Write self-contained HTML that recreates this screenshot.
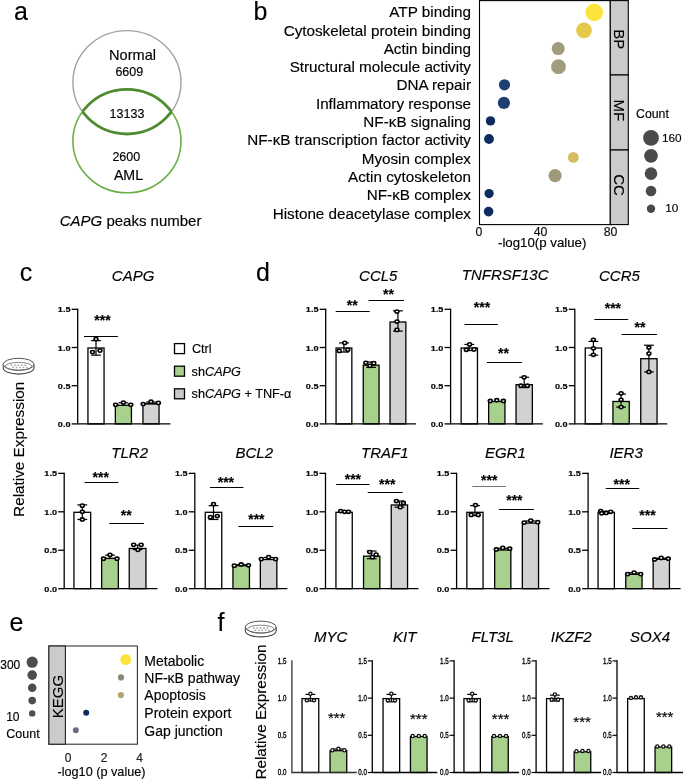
<!DOCTYPE html>
<html><head><meta charset="utf-8"><style>
html,body{margin:0;padding:0;background:#fff;}
svg{display:block;will-change:transform;}
text{font-family:'Liberation Sans', sans-serif;stroke:#000;stroke-width:0.15px;}
</style></head><body>
<svg width="683" height="781" viewBox="0 0 683 781" font-family="'Liberation Sans', sans-serif">
<rect width="683" height="781" fill="#fff"/>
<text x="14.00" y="19.90" font-size="25" text-anchor="start" fill="#000"  >a</text>
<text x="253.60" y="19.90" font-size="25" text-anchor="start" fill="#000"  >b</text>
<text x="19.80" y="280.90" font-size="25" text-anchor="start" fill="#000"  >c</text>
<text x="256.00" y="280.80" font-size="25" text-anchor="start" fill="#000"  >d</text>
<text x="9.50" y="630.90" font-size="25" text-anchor="start" fill="#000"  >e</text>
<text x="217.60" y="631.30" font-size="25" text-anchor="start" fill="#000"  >f</text>
<defs><clipPath id="clipGray"><ellipse cx="126.95" cy="82.3" rx="54.05" ry="51.7"/></clipPath><clipPath id="clipGreen"><ellipse cx="126.95" cy="141.05" rx="54.05" ry="51.75"/></clipPath></defs>
<ellipse cx="126.95" cy="82.3" rx="54.05" ry="51.7" fill="none" stroke="#a2a2a2" stroke-width="1.4"/>
<ellipse cx="126.95" cy="141.05" rx="54.05" ry="51.75" fill="none" stroke="#6aaf45" stroke-width="1.6"/>
<ellipse cx="126.95" cy="141.05" rx="54.05" ry="51.75" fill="none" stroke="#4f8c31" stroke-width="2.8" clip-path="url(#clipGray)"/>
<ellipse cx="126.95" cy="82.3" rx="54.05" ry="51.7" fill="none" stroke="#4f8c31" stroke-width="2.8" clip-path="url(#clipGreen)"/>
<text x="132.50" y="59.60" font-size="14.6" text-anchor="middle" fill="#000"  >Normal</text>
<text x="129.30" y="76.40" font-size="12.5" text-anchor="middle" fill="#000"  >6609</text>
<text x="127.00" y="118.00" font-size="12.5" text-anchor="middle" fill="#000"  >13133</text>
<text x="126.30" y="160.50" font-size="12.5" text-anchor="middle" fill="#000"  >2600</text>
<text x="128.50" y="179.50" font-size="14.2" text-anchor="middle" fill="#000"  >AML</text>
<text x="130.6" y="226.2" font-size="15" text-anchor="middle"><tspan font-style="italic">CAPG</tspan> peaks number</text>
<text x="471.00" y="17.20" font-size="15.25" text-anchor="end" fill="#000"  >ATP binding</text>
<text x="471.00" y="35.50" font-size="15.25" text-anchor="end" fill="#000"  >Cytoskeletal protein binding</text>
<text x="471.00" y="53.80" font-size="15.25" text-anchor="end" fill="#000"  >Actin binding</text>
<text x="471.00" y="72.10" font-size="15.25" text-anchor="end" fill="#000"  >Structural molecule activity</text>
<text x="471.00" y="90.40" font-size="15.25" text-anchor="end" fill="#000"  >DNA repair</text>
<text x="471.00" y="108.70" font-size="15.25" text-anchor="end" fill="#000"  >Inflammatory response</text>
<text x="471.00" y="127.00" font-size="15.25" text-anchor="end" fill="#000"  >NF-κB signaling</text>
<text x="471.00" y="145.30" font-size="15.25" text-anchor="end" fill="#000"  >NF-κB transcription factor activity</text>
<text x="471.00" y="163.60" font-size="15.25" text-anchor="end" fill="#000"  >Myosin complex</text>
<text x="471.00" y="181.90" font-size="15.25" text-anchor="end" fill="#000"  >Actin cytoskeleton</text>
<text x="471.00" y="200.20" font-size="15.25" text-anchor="end" fill="#000"  >NF-κB complex</text>
<text x="471.00" y="218.50" font-size="15.25" text-anchor="end" fill="#000"  >Histone deacetylase complex</text>
<rect x="479.50" y="0.60" width="130.80" height="224.00" fill="#fff" stroke="#000" stroke-width="1.1" />
<rect x="610.30" y="0.60" width="18.00" height="74.40" fill="#cbcbcb" stroke="#000" stroke-width="1.1" />
<text x="0" y="0" font-size="15" text-anchor="middle" transform="translate(614.00,39.20) rotate(90)">BP</text>
<rect x="610.30" y="75.00" width="18.00" height="75.00" fill="#cbcbcb" stroke="#000" stroke-width="1.1" />
<text x="0" y="0" font-size="15" text-anchor="middle" transform="translate(614.00,110.30) rotate(90)">MF</text>
<rect x="610.30" y="150.00" width="18.00" height="74.60" fill="#cbcbcb" stroke="#000" stroke-width="1.1" />
<text x="0" y="0" font-size="15" text-anchor="middle" transform="translate(614.00,185.10) rotate(90)">CC</text>
<circle cx="594.20" cy="12.40" r="8.80" fill="#fce33d" stroke="none" stroke-width="1"/>
<circle cx="584.00" cy="30.30" r="7.90" fill="#e6c94a" stroke="none" stroke-width="1"/>
<circle cx="558.20" cy="48.60" r="6.50" fill="#a19c7b" stroke="none" stroke-width="1"/>
<circle cx="558.50" cy="66.70" r="7.40" fill="#a19c7b" stroke="none" stroke-width="1"/>
<circle cx="504.50" cy="84.80" r="5.60" fill="#1e3e74" stroke="none" stroke-width="1"/>
<circle cx="503.90" cy="102.90" r="6.10" fill="#1e3e74" stroke="none" stroke-width="1"/>
<circle cx="490.50" cy="120.90" r="4.70" fill="#0e2b60" stroke="none" stroke-width="1"/>
<circle cx="489.00" cy="139.00" r="4.90" fill="#0e2b60" stroke="none" stroke-width="1"/>
<circle cx="573.30" cy="157.40" r="5.40" fill="#d7bb60" stroke="none" stroke-width="1"/>
<circle cx="555.10" cy="175.60" r="6.60" fill="#9e9979" stroke="none" stroke-width="1"/>
<circle cx="489.10" cy="193.60" r="4.60" fill="#0e2b60" stroke="none" stroke-width="1"/>
<circle cx="488.60" cy="211.60" r="4.80" fill="#0e2b60" stroke="none" stroke-width="1"/>
<text x="478.80" y="236.40" font-size="12.3" text-anchor="middle" fill="#111"  >0</text>
<text x="540.50" y="236.40" font-size="12.3" text-anchor="middle" fill="#111"  >40</text>
<text x="610.50" y="236.40" font-size="12.3" text-anchor="middle" fill="#111"  >80</text>
<text x="542.20" y="247.00" font-size="13.25" text-anchor="middle" fill="#000"  >-log10(p value)</text>
<text x="636.00" y="118.40" font-size="12.3" text-anchor="start" fill="#000"  >Count</text>
<circle cx="651.00" cy="137.90" r="7.90" fill="#4a4a4a" stroke="none" stroke-width="1"/>
<circle cx="651.00" cy="155.80" r="6.90" fill="#4a4a4a" stroke="none" stroke-width="1"/>
<circle cx="651.00" cy="173.60" r="6.30" fill="#4a4a4a" stroke="none" stroke-width="1"/>
<circle cx="651.00" cy="191.00" r="5.30" fill="#4a4a4a" stroke="none" stroke-width="1"/>
<circle cx="651.00" cy="208.70" r="4.20" fill="#4a4a4a" stroke="none" stroke-width="1"/>
<text x="662.00" y="141.80" font-size="11.8" text-anchor="start" fill="#000"  >160</text>
<text x="665.30" y="212.20" font-size="11.8" text-anchor="start" fill="#000"  >10</text>
<rect x="87.95" y="348.00" width="16.10" height="75.90" fill="#ffffff" stroke="#000" stroke-width="1.3" />
<rect x="115.35" y="405.30" width="16.10" height="18.60" fill="#a9d18e" stroke="#000" stroke-width="1.3" />
<rect x="142.95" y="403.77" width="16.10" height="20.13" fill="#d2d2d2" stroke="#000" stroke-width="1.3" />
<line x1="96.00" y1="355.14" x2="96.00" y2="340.62" stroke="#000" stroke-width="1.2"/>
<line x1="91.10" y1="340.62" x2="100.90" y2="340.62" stroke="#000" stroke-width="1.2"/>
<line x1="91.10" y1="355.14" x2="100.90" y2="355.14" stroke="#000" stroke-width="1.2"/>
<ellipse cx="96.00" cy="339.10" rx="1.95" ry="1.6" fill="#fff" stroke="#000" stroke-width="1.55"/>
<ellipse cx="92.50" cy="352.08" rx="1.95" ry="1.6" fill="#fff" stroke="#000" stroke-width="1.55"/>
<ellipse cx="100.00" cy="350.56" rx="1.95" ry="1.6" fill="#fff" stroke="#000" stroke-width="1.55"/>
<line x1="123.40" y1="404.49" x2="123.40" y2="402.81" stroke="#000" stroke-width="1.2"/>
<line x1="118.50" y1="402.81" x2="128.30" y2="402.81" stroke="#000" stroke-width="1.2"/>
<ellipse cx="115.60" cy="404.80" rx="1.95" ry="1.6" fill="#fff" stroke="#000" stroke-width="1.55"/>
<ellipse cx="123.40" cy="402.51" rx="1.95" ry="1.6" fill="#fff" stroke="#000" stroke-width="1.55"/>
<ellipse cx="130.80" cy="404.80" rx="1.95" ry="1.6" fill="#fff" stroke="#000" stroke-width="1.55"/>
<line x1="151.00" y1="403.73" x2="151.00" y2="402.05" stroke="#000" stroke-width="1.2"/>
<line x1="146.10" y1="402.05" x2="155.90" y2="402.05" stroke="#000" stroke-width="1.2"/>
<line x1="146.10" y1="403.73" x2="155.90" y2="403.73" stroke="#000" stroke-width="1.2"/>
<ellipse cx="143.20" cy="404.04" rx="1.95" ry="1.6" fill="#fff" stroke="#000" stroke-width="1.55"/>
<ellipse cx="151.00" cy="401.74" rx="1.95" ry="1.6" fill="#fff" stroke="#000" stroke-width="1.55"/>
<ellipse cx="158.40" cy="402.89" rx="1.95" ry="1.6" fill="#fff" stroke="#000" stroke-width="1.55"/>
<line x1="77.70" y1="423.90" x2="77.70" y2="308.70" stroke="#000" stroke-width="1.3"/>
<line x1="77.10" y1="423.90" x2="170.40" y2="423.90" stroke="#000" stroke-width="1.3"/>
<line x1="71.70" y1="423.90" x2="77.70" y2="423.90" stroke="#000" stroke-width="1.3"/>
<text x="0" y="0" font-size="7" font-weight="bold" text-anchor="end" transform="translate(70.50,426.90) scale(1.3,1)">0.0</text>
<line x1="71.70" y1="385.70" x2="77.70" y2="385.70" stroke="#000" stroke-width="1.3"/>
<text x="0" y="0" font-size="7" font-weight="bold" text-anchor="end" transform="translate(70.50,388.70) scale(1.3,1)">0.5</text>
<line x1="71.70" y1="347.50" x2="77.70" y2="347.50" stroke="#000" stroke-width="1.3"/>
<text x="0" y="0" font-size="7" font-weight="bold" text-anchor="end" transform="translate(70.50,350.50) scale(1.3,1)">1.0</text>
<line x1="71.70" y1="309.30" x2="77.70" y2="309.30" stroke="#000" stroke-width="1.3"/>
<text x="0" y="0" font-size="7" font-weight="bold" text-anchor="end" transform="translate(70.50,312.30) scale(1.3,1)">1.5</text>
<line x1="84.00" y1="336.50" x2="117.90" y2="336.50" stroke="#000" stroke-width="1.2"/>
<text x="102.50" y="324.94" font-size="14" text-anchor="middle" fill="#000" font-weight="bold" >***</text>
<rect x="336.05" y="348.00" width="15.80" height="75.90" fill="#ffffff" stroke="#000" stroke-width="1.3" />
<rect x="363.25" y="365.19" width="15.80" height="58.71" fill="#a9d18e" stroke="#000" stroke-width="1.3" />
<rect x="390.05" y="322.02" width="15.80" height="101.88" fill="#d2d2d2" stroke="#000" stroke-width="1.3" />
<line x1="343.95" y1="352.08" x2="343.95" y2="342.92" stroke="#000" stroke-width="1.2"/>
<line x1="339.05" y1="342.92" x2="348.85" y2="342.92" stroke="#000" stroke-width="1.2"/>
<line x1="339.05" y1="352.08" x2="348.85" y2="352.08" stroke="#000" stroke-width="1.2"/>
<ellipse cx="344.75" cy="342.92" rx="1.95" ry="1.6" fill="#fff" stroke="#000" stroke-width="1.55"/>
<ellipse cx="339.25" cy="350.94" rx="1.95" ry="1.6" fill="#fff" stroke="#000" stroke-width="1.55"/>
<ellipse cx="347.85" cy="349.79" rx="1.95" ry="1.6" fill="#fff" stroke="#000" stroke-width="1.55"/>
<line x1="371.15" y1="367.36" x2="371.15" y2="362.02" stroke="#000" stroke-width="1.2"/>
<line x1="366.25" y1="362.02" x2="376.05" y2="362.02" stroke="#000" stroke-width="1.2"/>
<line x1="366.25" y1="367.36" x2="376.05" y2="367.36" stroke="#000" stroke-width="1.2"/>
<ellipse cx="365.85" cy="362.78" rx="1.95" ry="1.6" fill="#fff" stroke="#000" stroke-width="1.55"/>
<ellipse cx="369.85" cy="365.84" rx="1.95" ry="1.6" fill="#fff" stroke="#000" stroke-width="1.55"/>
<ellipse cx="373.75" cy="363.16" rx="1.95" ry="1.6" fill="#fff" stroke="#000" stroke-width="1.55"/>
<line x1="397.95" y1="331.07" x2="397.95" y2="310.83" stroke="#000" stroke-width="1.2"/>
<line x1="393.05" y1="310.83" x2="402.85" y2="310.83" stroke="#000" stroke-width="1.2"/>
<line x1="393.05" y1="331.07" x2="402.85" y2="331.07" stroke="#000" stroke-width="1.2"/>
<ellipse cx="396.95" cy="311.59" rx="1.95" ry="1.6" fill="#fff" stroke="#000" stroke-width="1.55"/>
<ellipse cx="396.95" cy="321.52" rx="1.95" ry="1.6" fill="#fff" stroke="#000" stroke-width="1.55"/>
<ellipse cx="396.95" cy="329.93" rx="1.95" ry="1.6" fill="#fff" stroke="#000" stroke-width="1.55"/>
<line x1="325.70" y1="423.90" x2="325.70" y2="308.70" stroke="#000" stroke-width="1.3"/>
<line x1="325.10" y1="423.90" x2="416.00" y2="423.90" stroke="#000" stroke-width="1.3"/>
<line x1="319.70" y1="423.90" x2="325.70" y2="423.90" stroke="#000" stroke-width="1.3"/>
<text x="0" y="0" font-size="7" font-weight="bold" text-anchor="end" transform="translate(318.50,426.90) scale(1.3,1)">0.0</text>
<line x1="319.70" y1="385.70" x2="325.70" y2="385.70" stroke="#000" stroke-width="1.3"/>
<text x="0" y="0" font-size="7" font-weight="bold" text-anchor="end" transform="translate(318.50,388.70) scale(1.3,1)">0.5</text>
<line x1="319.70" y1="347.50" x2="325.70" y2="347.50" stroke="#000" stroke-width="1.3"/>
<text x="0" y="0" font-size="7" font-weight="bold" text-anchor="end" transform="translate(318.50,350.50) scale(1.3,1)">1.0</text>
<line x1="319.70" y1="309.30" x2="325.70" y2="309.30" stroke="#000" stroke-width="1.3"/>
<text x="0" y="0" font-size="7" font-weight="bold" text-anchor="end" transform="translate(318.50,312.30) scale(1.3,1)">1.5</text>
<line x1="335.70" y1="311.50" x2="369.70" y2="311.50" stroke="#000" stroke-width="1.2"/>
<text x="352.20" y="309.84" font-size="14" text-anchor="middle" fill="#000" font-weight="bold" >**</text>
<line x1="368.60" y1="300.50" x2="404.00" y2="300.50" stroke="#000" stroke-width="1.2"/>
<text x="388.40" y="298.74" font-size="14" text-anchor="middle" fill="#000" font-weight="bold" >**</text>
<rect x="461.15" y="348.00" width="16.30" height="75.90" fill="#ffffff" stroke="#000" stroke-width="1.3" />
<rect x="488.65" y="401.48" width="16.30" height="22.42" fill="#a9d18e" stroke="#000" stroke-width="1.3" />
<rect x="516.05" y="384.67" width="16.30" height="39.23" fill="#d2d2d2" stroke="#000" stroke-width="1.3" />
<line x1="469.30" y1="350.56" x2="469.30" y2="344.44" stroke="#000" stroke-width="1.2"/>
<line x1="464.40" y1="344.44" x2="474.20" y2="344.44" stroke="#000" stroke-width="1.2"/>
<line x1="464.40" y1="350.56" x2="474.20" y2="350.56" stroke="#000" stroke-width="1.2"/>
<ellipse cx="469.60" cy="344.44" rx="1.95" ry="1.6" fill="#fff" stroke="#000" stroke-width="1.55"/>
<ellipse cx="466.30" cy="349.79" rx="1.95" ry="1.6" fill="#fff" stroke="#000" stroke-width="1.55"/>
<ellipse cx="474.00" cy="349.41" rx="1.95" ry="1.6" fill="#fff" stroke="#000" stroke-width="1.55"/>
<ellipse cx="490.30" cy="400.98" rx="1.95" ry="1.6" fill="#fff" stroke="#000" stroke-width="1.55"/>
<ellipse cx="496.80" cy="400.22" rx="1.95" ry="1.6" fill="#fff" stroke="#000" stroke-width="1.55"/>
<ellipse cx="503.40" cy="400.98" rx="1.95" ry="1.6" fill="#fff" stroke="#000" stroke-width="1.55"/>
<line x1="524.20" y1="387.61" x2="524.20" y2="377.30" stroke="#000" stroke-width="1.2"/>
<line x1="519.30" y1="377.30" x2="529.10" y2="377.30" stroke="#000" stroke-width="1.2"/>
<line x1="519.30" y1="387.61" x2="529.10" y2="387.61" stroke="#000" stroke-width="1.2"/>
<ellipse cx="524.20" cy="377.30" rx="1.95" ry="1.6" fill="#fff" stroke="#000" stroke-width="1.55"/>
<ellipse cx="520.80" cy="385.70" rx="1.95" ry="1.6" fill="#fff" stroke="#000" stroke-width="1.55"/>
<ellipse cx="527.40" cy="385.70" rx="1.95" ry="1.6" fill="#fff" stroke="#000" stroke-width="1.55"/>
<line x1="450.60" y1="423.90" x2="450.60" y2="308.70" stroke="#000" stroke-width="1.3"/>
<line x1="450.00" y1="423.90" x2="542.90" y2="423.90" stroke="#000" stroke-width="1.3"/>
<line x1="444.60" y1="423.90" x2="450.60" y2="423.90" stroke="#000" stroke-width="1.3"/>
<text x="0" y="0" font-size="7" font-weight="bold" text-anchor="end" transform="translate(443.40,426.90) scale(1.3,1)">0.0</text>
<line x1="444.60" y1="385.70" x2="450.60" y2="385.70" stroke="#000" stroke-width="1.3"/>
<text x="0" y="0" font-size="7" font-weight="bold" text-anchor="end" transform="translate(443.40,388.70) scale(1.3,1)">0.5</text>
<line x1="444.60" y1="347.50" x2="450.60" y2="347.50" stroke="#000" stroke-width="1.3"/>
<text x="0" y="0" font-size="7" font-weight="bold" text-anchor="end" transform="translate(443.40,350.50) scale(1.3,1)">1.0</text>
<line x1="444.60" y1="309.30" x2="450.60" y2="309.30" stroke="#000" stroke-width="1.3"/>
<text x="0" y="0" font-size="7" font-weight="bold" text-anchor="end" transform="translate(443.40,312.30) scale(1.3,1)">1.5</text>
<line x1="464.50" y1="324.50" x2="497.90" y2="324.50" stroke="#000" stroke-width="1.2"/>
<text x="482.00" y="312.14" font-size="14" text-anchor="middle" fill="#000" font-weight="bold" >***</text>
<line x1="486.90" y1="362.50" x2="522.00" y2="362.50" stroke="#000" stroke-width="1.2"/>
<text x="503.40" y="358.24" font-size="14" text-anchor="middle" fill="#000" font-weight="bold" >**</text>
<rect x="585.25" y="348.00" width="16.30" height="75.90" fill="#ffffff" stroke="#000" stroke-width="1.3" />
<rect x="612.95" y="401.48" width="16.30" height="22.42" fill="#a9d18e" stroke="#000" stroke-width="1.3" />
<rect x="640.75" y="358.70" width="16.30" height="65.20" fill="#d2d2d2" stroke="#000" stroke-width="1.3" />
<line x1="593.40" y1="355.14" x2="593.40" y2="341.39" stroke="#000" stroke-width="1.2"/>
<line x1="588.50" y1="341.39" x2="598.30" y2="341.39" stroke="#000" stroke-width="1.2"/>
<line x1="588.50" y1="355.14" x2="598.30" y2="355.14" stroke="#000" stroke-width="1.2"/>
<ellipse cx="593.40" cy="339.86" rx="1.95" ry="1.6" fill="#fff" stroke="#000" stroke-width="1.55"/>
<ellipse cx="593.40" cy="348.26" rx="1.95" ry="1.6" fill="#fff" stroke="#000" stroke-width="1.55"/>
<ellipse cx="593.40" cy="354.76" rx="1.95" ry="1.6" fill="#fff" stroke="#000" stroke-width="1.55"/>
<line x1="621.10" y1="407.09" x2="621.10" y2="394.10" stroke="#000" stroke-width="1.2"/>
<line x1="616.20" y1="394.10" x2="626.00" y2="394.10" stroke="#000" stroke-width="1.2"/>
<line x1="616.20" y1="407.09" x2="626.00" y2="407.09" stroke="#000" stroke-width="1.2"/>
<ellipse cx="621.10" cy="393.34" rx="1.95" ry="1.6" fill="#fff" stroke="#000" stroke-width="1.55"/>
<ellipse cx="621.10" cy="399.83" rx="1.95" ry="1.6" fill="#fff" stroke="#000" stroke-width="1.55"/>
<ellipse cx="621.10" cy="407.09" rx="1.95" ry="1.6" fill="#fff" stroke="#000" stroke-width="1.55"/>
<line x1="648.90" y1="371.95" x2="648.90" y2="345.21" stroke="#000" stroke-width="1.2"/>
<line x1="644.00" y1="345.21" x2="653.80" y2="345.21" stroke="#000" stroke-width="1.2"/>
<line x1="644.00" y1="371.95" x2="653.80" y2="371.95" stroke="#000" stroke-width="1.2"/>
<ellipse cx="648.90" cy="347.50" rx="1.95" ry="1.6" fill="#fff" stroke="#000" stroke-width="1.55"/>
<ellipse cx="648.90" cy="353.61" rx="1.95" ry="1.6" fill="#fff" stroke="#000" stroke-width="1.55"/>
<ellipse cx="648.90" cy="371.95" rx="1.95" ry="1.6" fill="#fff" stroke="#000" stroke-width="1.55"/>
<line x1="574.80" y1="423.90" x2="574.80" y2="308.70" stroke="#000" stroke-width="1.3"/>
<line x1="574.20" y1="423.90" x2="667.30" y2="423.90" stroke="#000" stroke-width="1.3"/>
<line x1="568.80" y1="423.90" x2="574.80" y2="423.90" stroke="#000" stroke-width="1.3"/>
<text x="0" y="0" font-size="7" font-weight="bold" text-anchor="end" transform="translate(567.60,426.90) scale(1.3,1)">0.0</text>
<line x1="568.80" y1="385.70" x2="574.80" y2="385.70" stroke="#000" stroke-width="1.3"/>
<text x="0" y="0" font-size="7" font-weight="bold" text-anchor="end" transform="translate(567.60,388.70) scale(1.3,1)">0.5</text>
<line x1="568.80" y1="347.50" x2="574.80" y2="347.50" stroke="#000" stroke-width="1.3"/>
<text x="0" y="0" font-size="7" font-weight="bold" text-anchor="end" transform="translate(567.60,350.50) scale(1.3,1)">1.0</text>
<line x1="568.80" y1="309.30" x2="574.80" y2="309.30" stroke="#000" stroke-width="1.3"/>
<text x="0" y="0" font-size="7" font-weight="bold" text-anchor="end" transform="translate(567.60,312.30) scale(1.3,1)">1.5</text>
<line x1="594.40" y1="319.50" x2="628.20" y2="319.50" stroke="#000" stroke-width="1.2"/>
<text x="612.90" y="312.84" font-size="14" text-anchor="middle" fill="#000" font-weight="bold" >***</text>
<line x1="621.60" y1="334.50" x2="656.90" y2="334.50" stroke="#000" stroke-width="1.2"/>
<text x="640.00" y="332.44" font-size="14" text-anchor="middle" fill="#000" font-weight="bold" >**</text>
<rect x="73.95" y="512.30" width="16.70" height="76.40" fill="#ffffff" stroke="#000" stroke-width="1.3" />
<rect x="101.65" y="558.44" width="16.70" height="30.26" fill="#a9d18e" stroke="#000" stroke-width="1.3" />
<rect x="129.25" y="548.44" width="16.70" height="40.26" fill="#d2d2d2" stroke="#000" stroke-width="1.3" />
<line x1="82.30" y1="519.49" x2="82.30" y2="504.88" stroke="#000" stroke-width="1.2"/>
<line x1="77.40" y1="504.88" x2="87.20" y2="504.88" stroke="#000" stroke-width="1.2"/>
<line x1="77.40" y1="519.49" x2="87.20" y2="519.49" stroke="#000" stroke-width="1.2"/>
<ellipse cx="82.30" cy="505.65" rx="1.95" ry="1.6" fill="#fff" stroke="#000" stroke-width="1.55"/>
<ellipse cx="82.30" cy="511.80" rx="1.95" ry="1.6" fill="#fff" stroke="#000" stroke-width="1.55"/>
<ellipse cx="82.30" cy="519.49" rx="1.95" ry="1.6" fill="#fff" stroke="#000" stroke-width="1.55"/>
<line x1="110.00" y1="558.40" x2="110.00" y2="555.17" stroke="#000" stroke-width="1.2"/>
<line x1="105.10" y1="555.17" x2="114.90" y2="555.17" stroke="#000" stroke-width="1.2"/>
<line x1="105.10" y1="558.40" x2="114.90" y2="558.40" stroke="#000" stroke-width="1.2"/>
<ellipse cx="103.50" cy="558.71" rx="1.95" ry="1.6" fill="#fff" stroke="#000" stroke-width="1.55"/>
<ellipse cx="110.00" cy="554.86" rx="1.95" ry="1.6" fill="#fff" stroke="#000" stroke-width="1.55"/>
<ellipse cx="117.00" cy="558.71" rx="1.95" ry="1.6" fill="#fff" stroke="#000" stroke-width="1.55"/>
<line x1="137.60" y1="549.56" x2="137.60" y2="545.17" stroke="#000" stroke-width="1.2"/>
<line x1="132.70" y1="545.17" x2="142.50" y2="545.17" stroke="#000" stroke-width="1.2"/>
<line x1="132.70" y1="549.56" x2="142.50" y2="549.56" stroke="#000" stroke-width="1.2"/>
<ellipse cx="133.60" cy="544.87" rx="1.95" ry="1.6" fill="#fff" stroke="#000" stroke-width="1.55"/>
<ellipse cx="137.90" cy="549.87" rx="1.95" ry="1.6" fill="#fff" stroke="#000" stroke-width="1.55"/>
<ellipse cx="141.20" cy="544.87" rx="1.95" ry="1.6" fill="#fff" stroke="#000" stroke-width="1.55"/>
<line x1="64.20" y1="588.70" x2="64.20" y2="472.75" stroke="#000" stroke-width="1.3"/>
<line x1="63.60" y1="588.70" x2="157.40" y2="588.70" stroke="#000" stroke-width="1.3"/>
<line x1="58.20" y1="588.70" x2="64.20" y2="588.70" stroke="#000" stroke-width="1.3"/>
<text x="0" y="0" font-size="7" font-weight="bold" text-anchor="end" transform="translate(57.00,591.70) scale(1.3,1)">0.0</text>
<line x1="58.20" y1="550.25" x2="64.20" y2="550.25" stroke="#000" stroke-width="1.3"/>
<text x="0" y="0" font-size="7" font-weight="bold" text-anchor="end" transform="translate(57.00,553.25) scale(1.3,1)">0.5</text>
<line x1="58.20" y1="511.80" x2="64.20" y2="511.80" stroke="#000" stroke-width="1.3"/>
<text x="0" y="0" font-size="7" font-weight="bold" text-anchor="end" transform="translate(57.00,514.80) scale(1.3,1)">1.0</text>
<line x1="58.20" y1="473.35" x2="64.20" y2="473.35" stroke="#000" stroke-width="1.3"/>
<text x="0" y="0" font-size="7" font-weight="bold" text-anchor="end" transform="translate(57.00,476.35) scale(1.3,1)">1.5</text>
<line x1="84.60" y1="482.50" x2="118.40" y2="482.50" stroke="#000" stroke-width="1.2"/>
<text x="100.70" y="481.74" font-size="14" text-anchor="middle" fill="#000" font-weight="bold" >***</text>
<line x1="109.30" y1="523.50" x2="143.90" y2="523.50" stroke="#000" stroke-width="1.2"/>
<text x="126.30" y="519.94" font-size="14" text-anchor="middle" fill="#000" font-weight="bold" >**</text>
<rect x="205.25" y="512.30" width="16.50" height="76.40" fill="#ffffff" stroke="#000" stroke-width="1.3" />
<rect x="232.95" y="565.67" width="16.50" height="23.03" fill="#a9d18e" stroke="#000" stroke-width="1.3" />
<rect x="260.35" y="559.52" width="16.50" height="29.18" fill="#d2d2d2" stroke="#000" stroke-width="1.3" />
<line x1="213.50" y1="519.49" x2="213.50" y2="505.65" stroke="#000" stroke-width="1.2"/>
<line x1="208.60" y1="505.65" x2="218.40" y2="505.65" stroke="#000" stroke-width="1.2"/>
<line x1="208.60" y1="519.49" x2="218.40" y2="519.49" stroke="#000" stroke-width="1.2"/>
<ellipse cx="213.50" cy="504.11" rx="1.95" ry="1.6" fill="#fff" stroke="#000" stroke-width="1.55"/>
<ellipse cx="210.40" cy="517.18" rx="1.95" ry="1.6" fill="#fff" stroke="#000" stroke-width="1.55"/>
<ellipse cx="217.30" cy="516.03" rx="1.95" ry="1.6" fill="#fff" stroke="#000" stroke-width="1.55"/>
<line x1="241.20" y1="565.32" x2="241.20" y2="564.78" stroke="#000" stroke-width="1.2"/>
<line x1="236.30" y1="564.78" x2="246.10" y2="564.78" stroke="#000" stroke-width="1.2"/>
<line x1="236.30" y1="565.32" x2="246.10" y2="565.32" stroke="#000" stroke-width="1.2"/>
<ellipse cx="234.30" cy="565.63" rx="1.95" ry="1.6" fill="#fff" stroke="#000" stroke-width="1.55"/>
<ellipse cx="241.20" cy="564.48" rx="1.95" ry="1.6" fill="#fff" stroke="#000" stroke-width="1.55"/>
<ellipse cx="248.50" cy="565.25" rx="1.95" ry="1.6" fill="#fff" stroke="#000" stroke-width="1.55"/>
<line x1="268.60" y1="558.79" x2="268.60" y2="557.48" stroke="#000" stroke-width="1.2"/>
<line x1="263.70" y1="557.48" x2="273.50" y2="557.48" stroke="#000" stroke-width="1.2"/>
<ellipse cx="261.30" cy="559.09" rx="1.95" ry="1.6" fill="#fff" stroke="#000" stroke-width="1.55"/>
<ellipse cx="268.60" cy="557.17" rx="1.95" ry="1.6" fill="#fff" stroke="#000" stroke-width="1.55"/>
<ellipse cx="275.60" cy="559.09" rx="1.95" ry="1.6" fill="#fff" stroke="#000" stroke-width="1.55"/>
<line x1="194.80" y1="588.70" x2="194.80" y2="472.75" stroke="#000" stroke-width="1.3"/>
<line x1="194.20" y1="588.70" x2="287.40" y2="588.70" stroke="#000" stroke-width="1.3"/>
<line x1="188.80" y1="588.70" x2="194.80" y2="588.70" stroke="#000" stroke-width="1.3"/>
<text x="0" y="0" font-size="7" font-weight="bold" text-anchor="end" transform="translate(187.60,591.70) scale(1.3,1)">0.0</text>
<line x1="188.80" y1="550.25" x2="194.80" y2="550.25" stroke="#000" stroke-width="1.3"/>
<text x="0" y="0" font-size="7" font-weight="bold" text-anchor="end" transform="translate(187.60,553.25) scale(1.3,1)">0.5</text>
<line x1="188.80" y1="511.80" x2="194.80" y2="511.80" stroke="#000" stroke-width="1.3"/>
<text x="0" y="0" font-size="7" font-weight="bold" text-anchor="end" transform="translate(187.60,514.80) scale(1.3,1)">1.0</text>
<line x1="188.80" y1="473.35" x2="194.80" y2="473.35" stroke="#000" stroke-width="1.3"/>
<text x="0" y="0" font-size="7" font-weight="bold" text-anchor="end" transform="translate(187.60,476.35) scale(1.3,1)">1.5</text>
<line x1="210.00" y1="487.50" x2="243.40" y2="487.50" stroke="#000" stroke-width="1.2"/>
<text x="225.90" y="486.74" font-size="14" text-anchor="middle" fill="#000" font-weight="bold" >***</text>
<line x1="238.40" y1="526.50" x2="273.20" y2="526.50" stroke="#000" stroke-width="1.2"/>
<text x="256.40" y="523.84" font-size="14" text-anchor="middle" fill="#000" font-weight="bold" >***</text>
<rect x="335.95" y="512.30" width="16.30" height="76.40" fill="#ffffff" stroke="#000" stroke-width="1.3" />
<rect x="363.55" y="556.13" width="16.30" height="32.57" fill="#a9d18e" stroke="#000" stroke-width="1.3" />
<rect x="391.25" y="504.99" width="16.30" height="83.71" fill="#d2d2d2" stroke="#000" stroke-width="1.3" />
<ellipse cx="340.70" cy="511.03" rx="1.95" ry="1.6" fill="#fff" stroke="#000" stroke-width="1.55"/>
<ellipse cx="344.60" cy="511.80" rx="1.95" ry="1.6" fill="#fff" stroke="#000" stroke-width="1.55"/>
<ellipse cx="348.50" cy="511.80" rx="1.95" ry="1.6" fill="#fff" stroke="#000" stroke-width="1.55"/>
<line x1="371.70" y1="558.71" x2="371.70" y2="551.02" stroke="#000" stroke-width="1.2"/>
<line x1="366.80" y1="551.02" x2="376.60" y2="551.02" stroke="#000" stroke-width="1.2"/>
<line x1="366.80" y1="558.71" x2="376.60" y2="558.71" stroke="#000" stroke-width="1.2"/>
<ellipse cx="369.70" cy="552.02" rx="1.95" ry="1.6" fill="#fff" stroke="#000" stroke-width="1.55"/>
<ellipse cx="372.40" cy="557.17" rx="1.95" ry="1.6" fill="#fff" stroke="#000" stroke-width="1.55"/>
<ellipse cx="376.10" cy="554.63" rx="1.95" ry="1.6" fill="#fff" stroke="#000" stroke-width="1.55"/>
<line x1="399.40" y1="507.19" x2="399.40" y2="501.03" stroke="#000" stroke-width="1.2"/>
<line x1="394.50" y1="501.03" x2="404.30" y2="501.03" stroke="#000" stroke-width="1.2"/>
<line x1="394.50" y1="507.19" x2="404.30" y2="507.19" stroke="#000" stroke-width="1.2"/>
<ellipse cx="396.40" cy="501.03" rx="1.95" ry="1.6" fill="#fff" stroke="#000" stroke-width="1.55"/>
<ellipse cx="400.20" cy="507.19" rx="1.95" ry="1.6" fill="#fff" stroke="#000" stroke-width="1.55"/>
<ellipse cx="403.40" cy="502.96" rx="1.95" ry="1.6" fill="#fff" stroke="#000" stroke-width="1.55"/>
<line x1="325.50" y1="588.70" x2="325.50" y2="472.75" stroke="#000" stroke-width="1.3"/>
<line x1="324.90" y1="588.70" x2="418.50" y2="588.70" stroke="#000" stroke-width="1.3"/>
<line x1="319.50" y1="588.70" x2="325.50" y2="588.70" stroke="#000" stroke-width="1.3"/>
<text x="0" y="0" font-size="7" font-weight="bold" text-anchor="end" transform="translate(318.30,591.70) scale(1.3,1)">0.0</text>
<line x1="319.50" y1="550.25" x2="325.50" y2="550.25" stroke="#000" stroke-width="1.3"/>
<text x="0" y="0" font-size="7" font-weight="bold" text-anchor="end" transform="translate(318.30,553.25) scale(1.3,1)">0.5</text>
<line x1="319.50" y1="511.80" x2="325.50" y2="511.80" stroke="#000" stroke-width="1.3"/>
<text x="0" y="0" font-size="7" font-weight="bold" text-anchor="end" transform="translate(318.30,514.80) scale(1.3,1)">1.0</text>
<line x1="319.50" y1="473.35" x2="325.50" y2="473.35" stroke="#000" stroke-width="1.3"/>
<text x="0" y="0" font-size="7" font-weight="bold" text-anchor="end" transform="translate(318.30,476.35) scale(1.3,1)">1.5</text>
<line x1="336.20" y1="484.50" x2="369.50" y2="484.50" stroke="#000" stroke-width="1.2"/>
<text x="352.90" y="483.94" font-size="14" text-anchor="middle" fill="#000" font-weight="bold" >***</text>
<line x1="367.70" y1="492.50" x2="402.60" y2="492.50" stroke="#000" stroke-width="1.2"/>
<text x="387.30" y="488.74" font-size="14" text-anchor="middle" fill="#000" font-weight="bold" >***</text>
<rect x="466.85" y="512.30" width="16.20" height="76.40" fill="#ffffff" stroke="#000" stroke-width="1.3" />
<rect x="494.65" y="549.98" width="16.20" height="38.72" fill="#a9d18e" stroke="#000" stroke-width="1.3" />
<rect x="522.35" y="523.07" width="16.20" height="65.63" fill="#d2d2d2" stroke="#000" stroke-width="1.3" />
<line x1="474.95" y1="515.64" x2="474.95" y2="505.65" stroke="#000" stroke-width="1.2"/>
<line x1="470.05" y1="505.65" x2="479.85" y2="505.65" stroke="#000" stroke-width="1.2"/>
<line x1="470.05" y1="515.64" x2="479.85" y2="515.64" stroke="#000" stroke-width="1.2"/>
<ellipse cx="475.45" cy="505.11" rx="1.95" ry="1.6" fill="#fff" stroke="#000" stroke-width="1.55"/>
<ellipse cx="471.15" cy="514.88" rx="1.95" ry="1.6" fill="#fff" stroke="#000" stroke-width="1.55"/>
<ellipse cx="478.25" cy="514.88" rx="1.95" ry="1.6" fill="#fff" stroke="#000" stroke-width="1.55"/>
<line x1="502.75" y1="549.17" x2="502.75" y2="548.25" stroke="#000" stroke-width="1.2"/>
<line x1="497.85" y1="548.25" x2="507.65" y2="548.25" stroke="#000" stroke-width="1.2"/>
<ellipse cx="496.25" cy="549.48" rx="1.95" ry="1.6" fill="#fff" stroke="#000" stroke-width="1.55"/>
<ellipse cx="502.75" cy="547.94" rx="1.95" ry="1.6" fill="#fff" stroke="#000" stroke-width="1.55"/>
<ellipse cx="509.75" cy="548.71" rx="1.95" ry="1.6" fill="#fff" stroke="#000" stroke-width="1.55"/>
<line x1="530.45" y1="522.26" x2="530.45" y2="520.95" stroke="#000" stroke-width="1.2"/>
<line x1="525.55" y1="520.95" x2="535.35" y2="520.95" stroke="#000" stroke-width="1.2"/>
<ellipse cx="524.25" cy="522.57" rx="1.95" ry="1.6" fill="#fff" stroke="#000" stroke-width="1.55"/>
<ellipse cx="530.75" cy="520.64" rx="1.95" ry="1.6" fill="#fff" stroke="#000" stroke-width="1.55"/>
<ellipse cx="537.75" cy="522.18" rx="1.95" ry="1.6" fill="#fff" stroke="#000" stroke-width="1.55"/>
<line x1="456.60" y1="588.70" x2="456.60" y2="472.75" stroke="#000" stroke-width="1.3"/>
<line x1="456.00" y1="588.70" x2="549.50" y2="588.70" stroke="#000" stroke-width="1.3"/>
<line x1="450.60" y1="588.70" x2="456.60" y2="588.70" stroke="#000" stroke-width="1.3"/>
<text x="0" y="0" font-size="7" font-weight="bold" text-anchor="end" transform="translate(449.40,591.70) scale(1.3,1)">0.0</text>
<line x1="450.60" y1="550.25" x2="456.60" y2="550.25" stroke="#000" stroke-width="1.3"/>
<text x="0" y="0" font-size="7" font-weight="bold" text-anchor="end" transform="translate(449.40,553.25) scale(1.3,1)">0.5</text>
<line x1="450.60" y1="511.80" x2="456.60" y2="511.80" stroke="#000" stroke-width="1.3"/>
<text x="0" y="0" font-size="7" font-weight="bold" text-anchor="end" transform="translate(449.40,514.80) scale(1.3,1)">1.0</text>
<line x1="450.60" y1="473.35" x2="456.60" y2="473.35" stroke="#000" stroke-width="1.3"/>
<text x="0" y="0" font-size="7" font-weight="bold" text-anchor="end" transform="translate(449.40,476.35) scale(1.3,1)">1.5</text>
<line x1="472.30" y1="486.50" x2="506.00" y2="486.50" stroke="#777" stroke-width="1.2"/>
<text x="489.20" y="484.64" font-size="14" text-anchor="middle" fill="#000" font-weight="bold" >***</text>
<line x1="499.00" y1="509.50" x2="533.90" y2="509.50" stroke="#000" stroke-width="1.2"/>
<text x="514.40" y="504.64" font-size="14" text-anchor="middle" fill="#000" font-weight="bold" >***</text>
<rect x="598.05" y="512.30" width="16.30" height="76.40" fill="#ffffff" stroke="#000" stroke-width="1.3" />
<rect x="625.75" y="574.36" width="16.30" height="14.34" fill="#a9d18e" stroke="#000" stroke-width="1.3" />
<rect x="653.15" y="559.21" width="16.30" height="29.49" fill="#d2d2d2" stroke="#000" stroke-width="1.3" />
<line x1="606.20" y1="513.03" x2="606.20" y2="511.34" stroke="#000" stroke-width="1.2"/>
<line x1="601.30" y1="511.34" x2="611.10" y2="511.34" stroke="#000" stroke-width="1.2"/>
<line x1="601.30" y1="513.03" x2="611.10" y2="513.03" stroke="#000" stroke-width="1.2"/>
<ellipse cx="600.70" cy="511.03" rx="1.95" ry="1.6" fill="#fff" stroke="#000" stroke-width="1.55"/>
<ellipse cx="606.20" cy="512.95" rx="1.95" ry="1.6" fill="#fff" stroke="#000" stroke-width="1.55"/>
<ellipse cx="610.70" cy="511.80" rx="1.95" ry="1.6" fill="#fff" stroke="#000" stroke-width="1.55"/>
<ellipse cx="601.70" cy="513.34" rx="1.95" ry="1.6" fill="#fff" stroke="#000" stroke-width="1.55"/>
<line x1="633.90" y1="573.78" x2="633.90" y2="572.86" stroke="#000" stroke-width="1.2"/>
<line x1="629.00" y1="572.86" x2="638.80" y2="572.86" stroke="#000" stroke-width="1.2"/>
<ellipse cx="627.60" cy="574.09" rx="1.95" ry="1.6" fill="#fff" stroke="#000" stroke-width="1.55"/>
<ellipse cx="634.10" cy="572.55" rx="1.95" ry="1.6" fill="#fff" stroke="#000" stroke-width="1.55"/>
<ellipse cx="640.70" cy="574.09" rx="1.95" ry="1.6" fill="#fff" stroke="#000" stroke-width="1.55"/>
<line x1="661.30" y1="559.17" x2="661.30" y2="558.25" stroke="#000" stroke-width="1.2"/>
<line x1="656.40" y1="558.25" x2="666.20" y2="558.25" stroke="#000" stroke-width="1.2"/>
<line x1="656.40" y1="559.17" x2="666.20" y2="559.17" stroke="#000" stroke-width="1.2"/>
<ellipse cx="654.60" cy="559.48" rx="1.95" ry="1.6" fill="#fff" stroke="#000" stroke-width="1.55"/>
<ellipse cx="661.20" cy="557.94" rx="1.95" ry="1.6" fill="#fff" stroke="#000" stroke-width="1.55"/>
<ellipse cx="668.30" cy="558.71" rx="1.95" ry="1.6" fill="#fff" stroke="#000" stroke-width="1.55"/>
<line x1="588.10" y1="588.70" x2="588.10" y2="472.75" stroke="#000" stroke-width="1.3"/>
<line x1="587.50" y1="588.70" x2="680.60" y2="588.70" stroke="#000" stroke-width="1.3"/>
<line x1="582.10" y1="588.70" x2="588.10" y2="588.70" stroke="#000" stroke-width="1.3"/>
<text x="0" y="0" font-size="7" font-weight="bold" text-anchor="end" transform="translate(580.90,591.70) scale(1.3,1)">0.0</text>
<line x1="582.10" y1="550.25" x2="588.10" y2="550.25" stroke="#000" stroke-width="1.3"/>
<text x="0" y="0" font-size="7" font-weight="bold" text-anchor="end" transform="translate(580.90,553.25) scale(1.3,1)">0.5</text>
<line x1="582.10" y1="511.80" x2="588.10" y2="511.80" stroke="#000" stroke-width="1.3"/>
<text x="0" y="0" font-size="7" font-weight="bold" text-anchor="end" transform="translate(580.90,514.80) scale(1.3,1)">1.0</text>
<line x1="582.10" y1="473.35" x2="588.10" y2="473.35" stroke="#000" stroke-width="1.3"/>
<text x="0" y="0" font-size="7" font-weight="bold" text-anchor="end" transform="translate(580.90,476.35) scale(1.3,1)">1.5</text>
<line x1="605.70" y1="488.50" x2="639.20" y2="488.50" stroke="#000" stroke-width="1.2"/>
<text x="621.80" y="488.94" font-size="14" text-anchor="middle" fill="#000" font-weight="bold" >***</text>
<line x1="632.30" y1="528.50" x2="667.50" y2="528.50" stroke="#000" stroke-width="1.2"/>
<text x="647.50" y="520.34" font-size="14" text-anchor="middle" fill="#000" font-weight="bold" >***</text>
<rect x="302.05" y="698.60" width="16.70" height="73.90" fill="#ffffff" stroke="#000" stroke-width="1.3" />
<rect x="330.05" y="750.68" width="16.70" height="21.82" fill="#a9d18e" stroke="#000" stroke-width="1.3" />
<line x1="310.40" y1="701.08" x2="310.40" y2="694.38" stroke="#000" stroke-width="1.2"/>
<line x1="305.50" y1="694.38" x2="315.30" y2="694.38" stroke="#000" stroke-width="1.2"/>
<line x1="305.50" y1="701.08" x2="315.30" y2="701.08" stroke="#000" stroke-width="1.2"/>
<circle cx="310.40" cy="693.64" r="1.60" fill="#fff" stroke="#111" stroke-width="1.3"/>
<circle cx="306.80" cy="700.33" r="1.60" fill="#fff" stroke="#111" stroke-width="1.3"/>
<circle cx="314.00" cy="700.33" r="1.60" fill="#fff" stroke="#111" stroke-width="1.3"/>
<line x1="338.40" y1="749.88" x2="338.40" y2="748.99" stroke="#000" stroke-width="1.2"/>
<line x1="333.50" y1="748.99" x2="343.30" y2="748.99" stroke="#000" stroke-width="1.2"/>
<circle cx="332.40" cy="750.18" r="1.60" fill="#fff" stroke="#111" stroke-width="1.3"/>
<circle cx="338.40" cy="748.69" r="1.60" fill="#fff" stroke="#111" stroke-width="1.3"/>
<circle cx="344.40" cy="750.18" r="1.60" fill="#fff" stroke="#111" stroke-width="1.3"/>
<line x1="291.90" y1="772.50" x2="291.90" y2="660.30" stroke="#333" stroke-width="1.3"/>
<line x1="291.30" y1="772.50" x2="356.90" y2="772.50" stroke="#333" stroke-width="1.3"/>
<text x="0" y="0" font-size="8.2" text-anchor="end" style="stroke-width:0.35px" transform="translate(286.50,775.40) scale(0.76,1)">0.0</text>
<text x="0" y="0" font-size="8.2" text-anchor="end" style="stroke-width:0.35px" transform="translate(286.50,738.20) scale(0.76,1)">0.5</text>
<text x="0" y="0" font-size="8.2" text-anchor="end" style="stroke-width:0.35px" transform="translate(286.50,701.00) scale(0.76,1)">1.0</text>
<text x="0" y="0" font-size="8.2" text-anchor="end" style="stroke-width:0.35px" transform="translate(286.50,663.80) scale(0.76,1)">1.5</text>
<text x="336.70" y="723.10" font-size="15" text-anchor="middle" fill="#000"  >***</text>
<rect x="383.05" y="698.60" width="16.60" height="73.90" fill="#ffffff" stroke="#000" stroke-width="1.3" />
<rect x="410.45" y="736.54" width="16.60" height="35.96" fill="#a9d18e" stroke="#000" stroke-width="1.3" />
<line x1="391.35" y1="701.82" x2="391.35" y2="694.38" stroke="#000" stroke-width="1.2"/>
<line x1="386.45" y1="694.38" x2="396.25" y2="694.38" stroke="#000" stroke-width="1.2"/>
<line x1="386.45" y1="701.82" x2="396.25" y2="701.82" stroke="#000" stroke-width="1.2"/>
<circle cx="391.35" cy="693.64" r="1.60" fill="#fff" stroke="#111" stroke-width="1.3"/>
<circle cx="387.75" cy="700.33" r="1.60" fill="#fff" stroke="#111" stroke-width="1.3"/>
<circle cx="394.95" cy="700.33" r="1.60" fill="#fff" stroke="#111" stroke-width="1.3"/>
<circle cx="412.75" cy="736.04" r="1.60" fill="#fff" stroke="#111" stroke-width="1.3"/>
<circle cx="418.75" cy="736.04" r="1.60" fill="#fff" stroke="#111" stroke-width="1.3"/>
<circle cx="424.75" cy="736.04" r="1.60" fill="#fff" stroke="#111" stroke-width="1.3"/>
<line x1="372.30" y1="772.50" x2="372.30" y2="660.30" stroke="#000" stroke-width="1.3"/>
<line x1="371.70" y1="772.50" x2="437.30" y2="772.50" stroke="#000" stroke-width="1.3"/>
<line x1="367.80" y1="772.50" x2="372.30" y2="772.50" stroke="#000" stroke-width="1.2"/>
<text x="0" y="0" font-size="8.2" text-anchor="end" style="stroke-width:0.35px" transform="translate(366.90,775.40) scale(0.76,1)">0.0</text>
<line x1="367.80" y1="735.30" x2="372.30" y2="735.30" stroke="#000" stroke-width="1.2"/>
<text x="0" y="0" font-size="8.2" text-anchor="end" style="stroke-width:0.35px" transform="translate(366.90,738.20) scale(0.76,1)">0.5</text>
<line x1="367.80" y1="698.10" x2="372.30" y2="698.10" stroke="#000" stroke-width="1.2"/>
<text x="0" y="0" font-size="8.2" text-anchor="end" style="stroke-width:0.35px" transform="translate(366.90,701.00) scale(0.76,1)">1.0</text>
<line x1="367.80" y1="660.90" x2="372.30" y2="660.90" stroke="#000" stroke-width="1.2"/>
<text x="0" y="0" font-size="8.2" text-anchor="end" style="stroke-width:0.35px" transform="translate(366.90,663.80) scale(0.76,1)">1.5</text>
<text x="418.80" y="723.50" font-size="15" text-anchor="middle" fill="#000"  >***</text>
<rect x="463.95" y="698.60" width="16.40" height="73.90" fill="#ffffff" stroke="#000" stroke-width="1.3" />
<rect x="491.85" y="736.54" width="16.40" height="35.96" fill="#a9d18e" stroke="#000" stroke-width="1.3" />
<line x1="472.15" y1="701.82" x2="472.15" y2="694.38" stroke="#000" stroke-width="1.2"/>
<line x1="467.25" y1="694.38" x2="477.05" y2="694.38" stroke="#000" stroke-width="1.2"/>
<line x1="467.25" y1="701.82" x2="477.05" y2="701.82" stroke="#000" stroke-width="1.2"/>
<circle cx="472.15" cy="693.64" r="1.60" fill="#fff" stroke="#111" stroke-width="1.3"/>
<circle cx="468.55" cy="700.33" r="1.60" fill="#fff" stroke="#111" stroke-width="1.3"/>
<circle cx="475.75" cy="700.33" r="1.60" fill="#fff" stroke="#111" stroke-width="1.3"/>
<circle cx="494.05" cy="736.04" r="1.60" fill="#fff" stroke="#111" stroke-width="1.3"/>
<circle cx="500.05" cy="736.04" r="1.60" fill="#fff" stroke="#111" stroke-width="1.3"/>
<circle cx="506.05" cy="736.04" r="1.60" fill="#fff" stroke="#111" stroke-width="1.3"/>
<line x1="454.10" y1="772.50" x2="454.10" y2="660.30" stroke="#000" stroke-width="1.3"/>
<line x1="453.50" y1="772.50" x2="519.10" y2="772.50" stroke="#000" stroke-width="1.3"/>
<line x1="449.60" y1="772.50" x2="454.10" y2="772.50" stroke="#000" stroke-width="1.2"/>
<text x="0" y="0" font-size="8.2" text-anchor="end" style="stroke-width:0.35px" transform="translate(448.70,775.40) scale(0.76,1)">0.0</text>
<line x1="449.60" y1="735.30" x2="454.10" y2="735.30" stroke="#000" stroke-width="1.2"/>
<text x="0" y="0" font-size="8.2" text-anchor="end" style="stroke-width:0.35px" transform="translate(448.70,738.20) scale(0.76,1)">0.5</text>
<line x1="449.60" y1="698.10" x2="454.10" y2="698.10" stroke="#000" stroke-width="1.2"/>
<text x="0" y="0" font-size="8.2" text-anchor="end" style="stroke-width:0.35px" transform="translate(448.70,701.00) scale(0.76,1)">1.0</text>
<line x1="449.60" y1="660.90" x2="454.10" y2="660.90" stroke="#000" stroke-width="1.2"/>
<text x="0" y="0" font-size="8.2" text-anchor="end" style="stroke-width:0.35px" transform="translate(448.70,663.80) scale(0.76,1)">1.5</text>
<text x="500.60" y="724.30" font-size="15" text-anchor="middle" fill="#000"  >***</text>
<rect x="546.55" y="698.60" width="16.60" height="73.90" fill="#ffffff" stroke="#000" stroke-width="1.3" />
<rect x="574.15" y="751.80" width="16.60" height="20.70" fill="#a9d18e" stroke="#000" stroke-width="1.3" />
<line x1="554.85" y1="701.08" x2="554.85" y2="695.12" stroke="#000" stroke-width="1.2"/>
<line x1="549.95" y1="695.12" x2="559.75" y2="695.12" stroke="#000" stroke-width="1.2"/>
<line x1="549.95" y1="701.08" x2="559.75" y2="701.08" stroke="#000" stroke-width="1.2"/>
<circle cx="554.85" cy="694.38" r="1.60" fill="#fff" stroke="#111" stroke-width="1.3"/>
<circle cx="551.65" cy="699.59" r="1.60" fill="#fff" stroke="#111" stroke-width="1.3"/>
<circle cx="558.05" cy="699.59" r="1.60" fill="#fff" stroke="#111" stroke-width="1.3"/>
<circle cx="576.45" cy="751.30" r="1.60" fill="#fff" stroke="#111" stroke-width="1.3"/>
<circle cx="582.45" cy="750.92" r="1.60" fill="#fff" stroke="#111" stroke-width="1.3"/>
<circle cx="588.45" cy="750.92" r="1.60" fill="#fff" stroke="#111" stroke-width="1.3"/>
<line x1="536.10" y1="772.50" x2="536.10" y2="660.30" stroke="#000" stroke-width="1.3"/>
<line x1="535.50" y1="772.50" x2="601.10" y2="772.50" stroke="#000" stroke-width="1.3"/>
<line x1="531.60" y1="772.50" x2="536.10" y2="772.50" stroke="#000" stroke-width="1.2"/>
<text x="0" y="0" font-size="8.2" text-anchor="end" style="stroke-width:0.35px" transform="translate(530.70,775.40) scale(0.76,1)">0.0</text>
<line x1="531.60" y1="735.30" x2="536.10" y2="735.30" stroke="#000" stroke-width="1.2"/>
<text x="0" y="0" font-size="8.2" text-anchor="end" style="stroke-width:0.35px" transform="translate(530.70,738.20) scale(0.76,1)">0.5</text>
<line x1="531.60" y1="698.10" x2="536.10" y2="698.10" stroke="#000" stroke-width="1.2"/>
<text x="0" y="0" font-size="8.2" text-anchor="end" style="stroke-width:0.35px" transform="translate(530.70,701.00) scale(0.76,1)">1.0</text>
<line x1="531.60" y1="660.90" x2="536.10" y2="660.90" stroke="#000" stroke-width="1.2"/>
<text x="0" y="0" font-size="8.2" text-anchor="end" style="stroke-width:0.35px" transform="translate(530.70,663.80) scale(0.76,1)">1.5</text>
<text x="582.10" y="727.30" font-size="15" text-anchor="middle" fill="#000"  >***</text>
<rect x="627.65" y="698.60" width="16.60" height="73.90" fill="#ffffff" stroke="#000" stroke-width="1.3" />
<rect x="655.05" y="746.96" width="16.60" height="25.54" fill="#a9d18e" stroke="#000" stroke-width="1.3" />
<circle cx="630.95" cy="698.10" r="1.60" fill="#fff" stroke="#111" stroke-width="1.3"/>
<circle cx="635.95" cy="697.36" r="1.60" fill="#fff" stroke="#111" stroke-width="1.3"/>
<circle cx="640.95" cy="697.36" r="1.60" fill="#fff" stroke="#111" stroke-width="1.3"/>
<circle cx="657.35" cy="746.46" r="1.60" fill="#fff" stroke="#111" stroke-width="1.3"/>
<circle cx="663.35" cy="746.46" r="1.60" fill="#fff" stroke="#111" stroke-width="1.3"/>
<circle cx="669.35" cy="746.46" r="1.60" fill="#fff" stroke="#111" stroke-width="1.3"/>
<line x1="617.00" y1="772.50" x2="617.00" y2="660.30" stroke="#000" stroke-width="1.3"/>
<line x1="616.40" y1="772.50" x2="684.00" y2="772.50" stroke="#000" stroke-width="1.3"/>
<line x1="612.50" y1="772.50" x2="617.00" y2="772.50" stroke="#000" stroke-width="1.2"/>
<text x="0" y="0" font-size="8.2" text-anchor="end" style="stroke-width:0.35px" transform="translate(611.60,775.40) scale(0.76,1)">0.0</text>
<line x1="612.50" y1="735.30" x2="617.00" y2="735.30" stroke="#000" stroke-width="1.2"/>
<text x="0" y="0" font-size="8.2" text-anchor="end" style="stroke-width:0.35px" transform="translate(611.60,738.20) scale(0.76,1)">0.5</text>
<line x1="612.50" y1="698.10" x2="617.00" y2="698.10" stroke="#000" stroke-width="1.2"/>
<text x="0" y="0" font-size="8.2" text-anchor="end" style="stroke-width:0.35px" transform="translate(611.60,701.00) scale(0.76,1)">1.0</text>
<line x1="612.50" y1="660.90" x2="617.00" y2="660.90" stroke="#000" stroke-width="1.2"/>
<text x="0" y="0" font-size="8.2" text-anchor="end" style="stroke-width:0.35px" transform="translate(611.60,663.80) scale(0.76,1)">1.5</text>
<text x="664.70" y="722.30" font-size="15" text-anchor="middle" fill="#000"  >***</text>
<text x="111.80" y="280.80" font-size="15" text-anchor="start" fill="#000" font-style="italic" >CAPG</text>
<text x="359.10" y="280.80" font-size="15" text-anchor="start" fill="#000" font-style="italic" >CCL5</text>
<text x="461.80" y="280.40" font-size="15" text-anchor="start" fill="#000" font-style="italic" >TNFRSF13C</text>
<text x="599.00" y="280.70" font-size="15" text-anchor="start" fill="#000" font-style="italic" >CCR5</text>
<text x="111.30" y="457.90" font-size="15" text-anchor="start" fill="#000" font-style="italic" >TLR2</text>
<text x="235.50" y="457.90" font-size="15" text-anchor="start" fill="#000" font-style="italic" >BCL2</text>
<text x="361.00" y="457.90" font-size="15" text-anchor="start" fill="#000" font-style="italic" >TRAF1</text>
<text x="484.90" y="457.90" font-size="15" text-anchor="start" fill="#000" font-style="italic" >EGR1</text>
<text x="609.40" y="457.90" font-size="15" text-anchor="start" fill="#000" font-style="italic" >IER3</text>
<text x="313.90" y="642.20" font-size="15" text-anchor="start" fill="#000" font-style="italic" >MYC</text>
<text x="393.10" y="642.40" font-size="15" text-anchor="start" fill="#000" font-style="italic" >KIT</text>
<text x="471.50" y="642.40" font-size="15" text-anchor="start" fill="#000" font-style="italic" >FLT3L</text>
<text x="550.80" y="642.40" font-size="15" text-anchor="start" fill="#000" font-style="italic" >IKZF2</text>
<text x="630.00" y="642.40" font-size="15" text-anchor="start" fill="#000" font-style="italic" >SOX4</text>
<rect x="174.50" y="343.60" width="10.00" height="10.00" fill="#ffffff" stroke="#000" stroke-width="1.3" />
<rect x="174.50" y="366.20" width="10.00" height="10.00" fill="#a9d18e" stroke="#000" stroke-width="1.3" />
<rect x="174.50" y="388.80" width="10.00" height="10.00" fill="#c8c8c8" stroke="#000" stroke-width="1.3" />
<text x="191.90" y="353.40" font-size="12.7" text-anchor="start" fill="#000"  >Ctrl</text>
<text x="191.6" y="375.9" font-size="12.7">sh<tspan font-style="italic">CAPG</tspan></text>
<text x="191.6" y="398.3" font-size="12.7">sh<tspan font-style="italic">CAPG</tspan> + TNF-α</text>
<text x="0" y="0" font-size="15.3" text-anchor="middle" transform="translate(24.0,449.3) rotate(-90)">Relative Expression</text>
<text x="0" y="0" font-size="15.3" text-anchor="middle" transform="translate(266.0,712.0) rotate(-90)">Relative Expression</text>
<g fill="none" stroke="#444" stroke-width="0.9"><path d="M3.20,364.30 L3.20,368.10 A15.40,6.00 0 0 0 34.00,368.10 L34.00,364.30" stroke-width="1.1"/><ellipse cx="18.60" cy="364.30" rx="15.40" ry="6.00" fill="#fff"/><ellipse cx="18.60" cy="366.30" rx="13.20" ry="3.90" stroke="#666" stroke-width="0.8"/></g>
<circle cx="11.60" cy="365.20" r="0.9" fill="#aaa"/>
<circle cx="13.20" cy="367.40" r="0.9" fill="#aaa"/>
<circle cx="15.00" cy="365.20" r="0.9" fill="#aaa"/>
<circle cx="16.60" cy="367.40" r="0.9" fill="#aaa"/>
<circle cx="18.40" cy="365.20" r="0.9" fill="#aaa"/>
<circle cx="20.00" cy="367.40" r="0.9" fill="#aaa"/>
<circle cx="21.80" cy="365.20" r="0.9" fill="#aaa"/>
<circle cx="23.40" cy="367.40" r="0.9" fill="#aaa"/>
<circle cx="25.20" cy="365.20" r="0.9" fill="#aaa"/>
<circle cx="26.80" cy="367.40" r="0.9" fill="#aaa"/>
<g fill="none" stroke="#444" stroke-width="0.9"><path d="M245.35,627.10 L245.35,630.90 A15.40,6.00 0 0 0 276.15,630.90 L276.15,627.10" stroke-width="1.1"/><ellipse cx="260.75" cy="627.10" rx="15.40" ry="6.00" fill="#fff"/><ellipse cx="260.75" cy="629.10" rx="13.20" ry="3.90" stroke="#666" stroke-width="0.8"/></g>
<circle cx="253.75" cy="628.00" r="0.9" fill="#aaa"/>
<circle cx="255.35" cy="630.20" r="0.9" fill="#aaa"/>
<circle cx="257.15" cy="628.00" r="0.9" fill="#aaa"/>
<circle cx="258.75" cy="630.20" r="0.9" fill="#aaa"/>
<circle cx="260.55" cy="628.00" r="0.9" fill="#aaa"/>
<circle cx="262.15" cy="630.20" r="0.9" fill="#aaa"/>
<circle cx="263.95" cy="628.00" r="0.9" fill="#aaa"/>
<circle cx="265.55" cy="630.20" r="0.9" fill="#aaa"/>
<circle cx="267.35" cy="628.00" r="0.9" fill="#aaa"/>
<circle cx="268.95" cy="630.20" r="0.9" fill="#aaa"/>
<rect x="48.90" y="646.00" width="88.50" height="98.20" fill="#fff" stroke="#333" stroke-width="1.1" />
<rect x="48.90" y="646.00" width="16.50" height="98.20" fill="#cbcbcb" stroke="#222" stroke-width="1.1" />
<text x="0" y="0" font-size="15" text-anchor="middle" transform="translate(63.0,696.6) rotate(-90)">KEGG</text>
<circle cx="125.70" cy="659.60" r="5.50" fill="#fce33d" stroke="none" stroke-width="1"/>
<circle cx="121.00" cy="677.40" r="3.10" fill="#8b887a" stroke="none" stroke-width="1"/>
<circle cx="120.90" cy="695.10" r="3.10" fill="#b2a46e" stroke="none" stroke-width="1"/>
<circle cx="86.20" cy="712.80" r="3.00" fill="#0e2b60" stroke="none" stroke-width="1"/>
<circle cx="75.80" cy="730.30" r="3.00" fill="#666c84" stroke="none" stroke-width="1"/>
<text x="144.30" y="665.60" font-size="14" text-anchor="start" fill="#000"  >Metabolic</text>
<text x="144.30" y="683.20" font-size="14" text-anchor="start" fill="#000"  >NF-κB pathway</text>
<text x="144.30" y="700.20" font-size="14" text-anchor="start" fill="#000"  >Apoptosis</text>
<text x="144.30" y="718.30" font-size="14" text-anchor="start" fill="#000"  >Protein export</text>
<text x="144.30" y="735.70" font-size="14" text-anchor="start" fill="#000"  >Gap junction</text>
<circle cx="32.20" cy="662.20" r="5.60" fill="#4d4d4d" stroke="none" stroke-width="1"/>
<circle cx="32.20" cy="675.10" r="4.80" fill="#4d4d4d" stroke="none" stroke-width="1"/>
<circle cx="32.20" cy="687.80" r="4.30" fill="#4d4d4d" stroke="none" stroke-width="1"/>
<circle cx="32.20" cy="700.60" r="3.80" fill="#4d4d4d" stroke="none" stroke-width="1"/>
<circle cx="32.20" cy="713.40" r="3.20" fill="#4d4d4d" stroke="none" stroke-width="1"/>
<text x="20.30" y="668.50" font-size="12" text-anchor="end" fill="#000"  >300</text>
<text x="19.50" y="721.20" font-size="12" text-anchor="end" fill="#000"  >10</text>
<text x="6.30" y="738.40" font-size="12.5" text-anchor="start" fill="#000"  >Count</text>
<text x="68.10" y="761.80" font-size="12" text-anchor="middle" fill="#222"  >0</text>
<text x="104.10" y="761.80" font-size="12" text-anchor="middle" fill="#222"  >2</text>
<text x="139.70" y="761.80" font-size="12" text-anchor="middle" fill="#222"  >4</text>
<text x="101.50" y="776.30" font-size="12.7" text-anchor="middle" fill="#000"  >-log10 (p value)</text>
</svg>
</body></html>
